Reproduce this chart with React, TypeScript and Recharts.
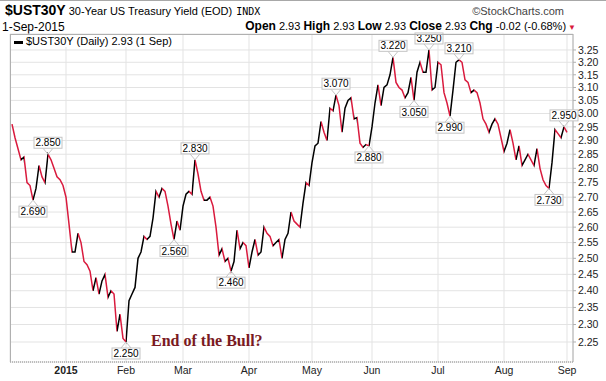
import { LineChart, Line, XAxis, YAxis, CartesianGrid } from "recharts";

// daily closes, 5-Dec-2014 .. 1-Sep-2015 (trading-day index = array position)
const yields = [
  2.96, 2.91, 2.87, 2.83, 2.84, 2.75, 2.74, 2.69, 2.73, 2.81,
  2.77, 2.75, 2.85, 2.83, 2.8, 2.77, 2.76, 2.74, 2.7, 2.61,
  2.52, 2.52, 2.58, 2.55, 2.49, 2.48, 2.46, 2.4, 2.44, 2.39,
  2.43, 2.45, 2.38, 2.4, 2.39, 2.28, 2.33, 2.26, 2.25, 2.37,
  2.39, 2.41, 2.5, 2.52, 2.57, 2.56, 2.57, 2.63, 2.72, 2.7,
  2.73, 2.72, 2.67, 2.61, 2.56, 2.62, 2.59, 2.67, 2.71, 2.72,
  2.71, 2.83, 2.78, 2.72, 2.69, 2.69, 2.7, 2.67, 2.6, 2.51,
  2.53, 2.49, 2.5, 2.46, 2.49, 2.59, 2.53, 2.55, 2.54, 2.47,
  2.52, 2.56, 2.51, 2.52, 2.6, 2.58, 2.57, 2.54, 2.55, 2.56,
  2.5, 2.56, 2.58, 2.65, 2.62, 2.61, 2.6, 2.68, 2.75, 2.74,
  2.82, 2.88, 2.89, 2.97, 2.93, 2.9, 3.02, 3.01, 3.07, 3.03,
  2.93, 3.02, 3.05, 3.06, 2.98, 2.985, 2.89, 2.875, 2.885, 2.88,
  2.95, 3.04, 3.11, 3.03, 3.1, 3.11, 3.15, 3.22, 3.12, 3.1,
  3.09, 3.06, 3.08, 3.14, 3.05, 3.16, 3.2, 3.16, 3.16, 3.25,
  3.09, 3.1, 3.2, 3.19, 3.08, 3.04, 2.99, 3.09, 3.2, 3.21,
  3.2, 3.13, 3.12, 3.08, 3.09, 3.08, 3.04, 2.98, 2.96, 2.93,
  2.96, 2.98, 2.96, 2.91, 2.86, 2.89, 2.94, 2.89, 2.83, 2.88,
  2.81, 2.83, 2.85, 2.83, 2.81, 2.87, 2.8, 2.76, 2.74, 2.73,
  2.82, 2.94, 2.925, 2.91, 2.95, 2.93,
];

const monthTicks = [18, 38, 57, 79, 100, 120, 142, 164, 185];
const monthLabels = ["2015", "Feb", "Mar", "Apr", "May", "Jun", "Jul", "Aug", "Sep"];
const yTicks = [
  2.25, 2.3, 2.35, 2.4, 2.45, 2.5, 2.55, 2.6, 2.65, 2.7, 2.75,
  2.8, 2.85, 2.9, 2.95, 3.0, 3.05, 3.1, 3.15, 3.2, 3.25,
];
const peaks = [12, 61, 108, 127, 139, 149, 184];
const troughs = [7, 38, 54, 73, 119, 134, 146, 179];

const UP = "#000000";
const DOWN = "#d91a3d";
const FONT = "'Liberation Sans', Arial, sans-serif";

const data = yields.map((v, i) => ({ i, v }));

function buildStops() {
  const last = yields.length - 1;
  const out = [];
  for (let k = 0; k < last; k++) {
    const c = yields[k + 1] >= yields[k] ? UP : DOWN;
    out.push(<stop key={"a" + k} offset={k / last} stopColor={c} />);
    out.push(<stop key={"b" + k} offset={(k + 1) / last} stopColor={c} />);
  }
  return out;
}

function Callout(props: any) {
  const { cx, cy, index } = props;
  const above = peaks.includes(index);
  const below = troughs.includes(index);
  if (!above && !below) return <g key={"d" + index} />;
  const w = 28;
  const h = 11;
  const gap = 6;
  const edge = above ? cy - gap : cy + gap;
  const top = above ? edge - h : edge;
  return (
    <g key={"d" + index}>
      <polyline
        points={`${cx - 5},${edge} ${cx},${cy} ${cx + 5},${edge}`}
        fill="none"
        stroke="#c4c4c4"
      />
      <rect x={cx - w / 2} y={top} width={w} height={h} fill="#fff" stroke="#c4c4c4" />
      <text
        x={cx}
        y={top + h / 2}
        dy="0.36em"
        textAnchor="middle"
        fontSize={10}
        fontFamily={FONT}
        fill="#000"
      >
        {yields[index].toFixed(3)}
      </text>
    </g>
  );
}

function MonthTick(props: any) {
  const { x, y, payload } = props;
  const idx = monthTicks.indexOf(payload.value);
  return (
    <text
      x={x}
      y={y}
      dy="0.71em"
      textAnchor="middle"
      fontSize={10.5}
      fontFamily={FONT}
      fontWeight={idx === 0 ? "bold" : "normal"}
      fill="#222"
    >
      {monthLabels[idx]}
    </text>
  );
}

export default function App() {
  return (
    <div
      style={{
        position: "absolute",
        left: 0,
        top: 0,
        width: 606,
        height: 381,
        background: "#fff",
        fontFamily: FONT,
        color: "#000",
      }}
    >
      <div style={{ position: "absolute", left: 0, top: 0, width: 606, height: 1, background: "#a8a8a8" }} />
      <div style={{ position: "absolute", left: 5, top: 3, whiteSpace: "nowrap", lineHeight: "14px" }}>
        <span style={{ fontSize: 14, fontWeight: "bold" }}>$UST30Y</span>
        <span style={{ fontSize: 11, marginLeft: 3 }}>30-Year US Treasury Yield (EOD)</span>
        <span style={{ fontSize: 10, marginLeft: 4, fontFamily: "'DejaVu Sans Mono', monospace" }}>INDX</span>
      </div>
      <div style={{ position: "absolute", right: 42, top: 5, fontSize: 11, color: "#444", lineHeight: "12px" }}>
        ©StockCharts.com
      </div>
      <div style={{ position: "absolute", left: 2, top: 21, fontSize: 12, lineHeight: "13px" }}>1-Sep-2015</div>
      <div style={{ position: "absolute", right: 30, top: 20, fontSize: 11, lineHeight: "13px", whiteSpace: "nowrap" }}>
        <b style={{ fontSize: 12 }}>Open</b> 2.93 <b style={{ fontSize: 12 }}>High</b> 2.93{" "}
        <b style={{ fontSize: 12 }}>Low</b> 2.93 <b style={{ fontSize: 12 }}>Close</b> 2.93{" "}
        <b style={{ fontSize: 12 }}>Chg</b> -0.02 (-0.68%)
        <span style={{ color: DOWN, fontSize: 8, marginLeft: 2 }}>▼</span>
      </div>

      <LineChart width={606} height={381} data={data} margin={{ top: 34, right: 0, bottom: 0, left: 10 }}>
        <defs>
          <linearGradient id="updown" x1="0" y1="0" x2="1" y2="0">
            {buildStops()}
          </linearGradient>
        </defs>
        <CartesianGrid stroke="#e3e3e3" />
        <XAxis
          type="number"
          dataKey="i"
          domain={[-0.67, 187]}
          ticks={monthTicks}
          interval={0}
          tick={<MonthTick />}
          tickLine={false}
          tickSize={2}
          tickMargin={3}
          height={19}
          axisLine={{ stroke: "#8a8a8a", strokeDasharray: "1 1" }}
        />
        <YAxis
          orientation="right"
          scale="log"
          domain={[2.194, 3.316]}
          ticks={yTicks}
          interval={0}
          width={33}
          tickSize={3}
          tickMargin={2}
          axisLine={{ stroke: "#b0b0b0" }}
          tickLine={{ stroke: "#b0b0b0" }}
          tick={{ fontSize: 10.5, fill: "#222", fontFamily: FONT }}
          tickFormatter={(v) => Number(v).toFixed(2)}
        />
        <Line
          type="linear"
          dataKey="v"
          stroke="url(#updown)"
          strokeWidth={1.5}
          dot={Callout}
          activeDot={false}
          isAnimationActive={false}
        />
      </LineChart>

      <div
        style={{
          position: "absolute",
          left: 10,
          top: 34,
          width: 563,
          height: 328,
          borderTop: "1px solid #b0b0b0",
          borderLeft: "1px solid #b0b0b0",
          boxSizing: "border-box",
          pointerEvents: "none",
        }}
      />
      <div
        style={{
          position: "absolute",
          left: 12,
          top: 36,
          fontSize: 11,
          lineHeight: "11px",
          background: "#fff",
          padding: "0 2px",
          whiteSpace: "nowrap",
        }}
      >
        <span style={{ display: "inline-block", width: 9, height: 3, background: "#000", verticalAlign: "middle", marginRight: 3 }} />
        $UST30Y (Daily) 2.93 (1 Sep)
      </div>
      <div
        style={{
          position: "absolute",
          left: 151,
          top: 332,
          fontSize: 16,
          fontWeight: "bold",
          fontFamily: "'Liberation Serif', 'Times New Roman', serif",
          color: "#7a1a1f",
          whiteSpace: "nowrap",
        }}
      >
        End of the Bull?
      </div>
    </div>
  );
}
